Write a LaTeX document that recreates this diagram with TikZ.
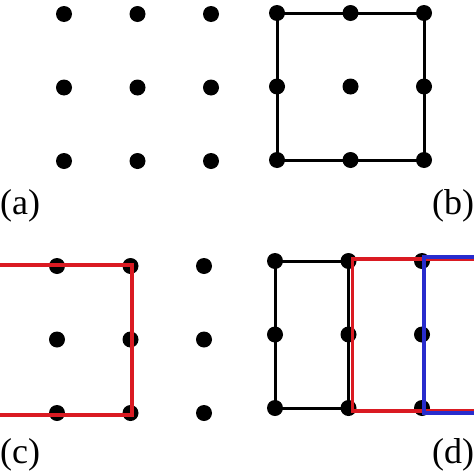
\documentclass[tikz,border=0pt]{standalone}
\usepackage{fontspec}
\setmainfont{Liberation Serif}
\definecolor{frame red}{RGB}{218,26,34}
\definecolor{frame blue}{RGB}{40,44,205}
\tikzset{
    dot/.style={circle, fill=black, inner sep=0pt, minimum size=16pt},
    panel label/.style={anchor=base west, inner sep=0pt, font=\fontsize{36}{40}\selectfont},
}
\begin{document}
\begin{tikzpicture}[x=1pt, y=-1pt]
    \useasboundingbox (0,0) rectangle (474,474);
    \clip (0,0) rectangle (474,474);
    \def\gap{73.5}
    % Dot grids, one per panel (name-col-row)
    \foreach \p/\ox/\oy in {a/64/14, b/277/13, c/57/266, d/275/261} {
        \foreach \i in {1,2,3} {
            \foreach \j in {1,2,3} {
                \node[dot] (\p-\i-\j) at ({\ox+(\i-1)*\gap}, {\oy+(\j-1)*\gap}) {};
            }
        }
    }
    % (b) one cell around the grid
    \draw[line width=3pt] (b-1-1.center) rectangle (b-3-3.center);
    % (c) cell shifted left, off the page
    \coordinate (c-0-1) at ({57-\gap}, 266);
    \draw[frame red, line width=3.5pt] ([xshift=1.5pt, yshift=1pt]c-0-1) rectangle ([xshift=1.5pt, yshift=-2pt]c-2-3.center);
    % (d) three half-width cells
    \draw[line width=3pt] (d-1-1.center) rectangle (d-2-3.center);
    \coordinate (d-4-1) at ({275+3*\gap}, 261);
    \coordinate (d-5-3) at ({275+4*\gap}, 408);
    \draw[frame red, line width=3.5pt] ([xshift=4pt, yshift=2pt]d-2-1.center) rectangle ([xshift=4pt, yshift=-3pt]d-4-1 |- d-3-3.center);
    \draw[frame blue, line width=3.5pt] ([xshift=2pt, yshift=4pt]d-3-1.center) rectangle ([yshift=-5pt]d-5-3);
    % Panel labels
    \node[panel label] (lab-a) at (0, 214) {(a)};
    \node[panel label] (lab-b) at (432, 214) {(b)};
    \node[panel label] (lab-c) at (0, 463) {(c)};
    \node[panel label] (lab-d) at (432, 463) {(d)};
\end{tikzpicture}
\end{document}
